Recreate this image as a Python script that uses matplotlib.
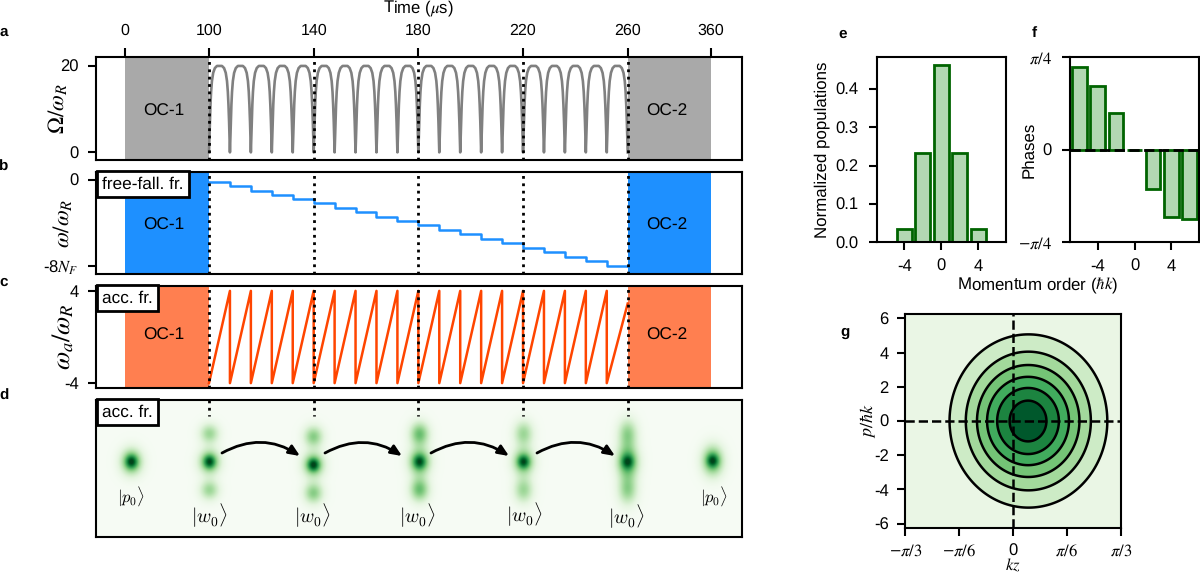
import numpy as np
import matplotlib
matplotlib.use('Agg')
import matplotlib.pyplot as plt

plt.rcParams['font.family'] = ['Liberation Sans', 'DejaVu Sans']
plt.rcParams['mathtext.fontset'] = 'stix'
plt.rcParams['axes.unicode_minus'] = False
plt.rcParams['axes.linewidth'] = 1.5
plt.rcParams['text.hinting'] = 'none'

W, H = 1200, 572

# time axis is squeezed over the two OC segments
scale_t = [-200, 0, 100, 260, 360, 560]
scale_px = [-43, 125, 209, 627.7, 711, 879]

time_ticks = [0, 100, 140, 180, 220, 260, 360]
dotted_t = [100, 140, 180, 220, 260]

# a: one pulse of 8 us
pulse_phase = [0, .02, .04, .07, .10, .14, .20, .28, .38, .5, .62, .72, .80, .86, .90, .93, .96, .98, 1]
pulse_amp = [0, 3.2, 7, 11, 14, 16.5, 18.4, 19.5, 20, 20, 20, 19.5, 18.4, 16.5, 14, 11, 7, 3.2, 0]
n_pulses = 20
pulse_len = 8

# b: frequency staircase, units of N_F
freq_levels = [-0.16, -0.53, -1.0, -1.37, -1.77, -2.17, -2.59, -3.02, -3.43, -3.83,
               -4.23, -4.67, -5.07, -5.51, -5.91, -6.32, -6.72, -7.16, -7.56, -8.0]

# c: accelerated frame sawtooth
saw_low = -4
saw_high = 4
saw_last = 2.9

# d: atom images (pixel positions in the panel)
spot_x = [131, 209, 313, 419, 523, 627, 712]
spot_y = [462, 462, 465, 462, 462, 462, 461]
spot_main = [0.42, 0.42, 0.46, 0.34, 0.42, 0.34, 0.42]
spot_halo = [0.62, 0.58, 0.58, 0.66, 0.58, 0.68, 0.62]
halo_sy = [9, 8.5, 8.5, 9, 9, 10.5, 10.5]
spot_side = [0, 0.38, 0.44, 0.52, 0.38, 0.42, 0]
side_sy = [1, 7, 7.5, 8.5, 9, 10.5, 1]
spot_gap = [0, 28, 28, 27.5, 28, 27.5, 0]
p0_x = [131, 714]
w0_x = [209, 312, 417, 524, 626]
w0_y = [515, 515, 515, 514, 516]
arrow_from = [(222, 453), (325, 453), (431, 453), (537, 453)]
arrow_to = [(300, 456), (402, 456), (509, 456), (615, 456)]

# e, f
orders = [-6, -4, -2, 0, 2, 4, 6]
populations = [0.002, 0.034, 0.232, 0.463, 0.232, 0.034, 0.002]
phases = [0.70, 0.54, 0.31, 0, -0.33, -0.57, -0.59]

# g: contour half widths (kz, in rad) and half heights (p), outer to inner
cont_xc = [0.150, 0.149, 0.148, 0.146, 0.146, 0.146]
cont_a = [0.767, 0.608, 0.498, 0.398, 0.300, 0.179]
cont_b = [5.06, 4.05, 3.27, 2.58, 1.93, 1.19]
cont_colors = ['#cdebc6', '#a3d99c', '#74c476', '#41ab5d', '#1c8440', '#00582c']
g_bg = '#eaf6e5'


def axes_px(left, top, right, bottom):
    return fig.add_axes([left / W, 1 - bottom / H, (right - left) / W, (bottom - top) / H])


def ylabel_at(ax, text, x_px, size):
    ax.set_ylabel(text, fontsize=size, va='center')
    box = ax.get_position()
    ax.yaxis.set_label_coords((x_px / W - box.x0) / box.width, 0.5)


def forward(t):
    return np.interp(t, scale_t, scale_px)


def inverse(p):
    return np.interp(p, scale_px, scale_t)


fig = plt.figure(figsize=(12, 5.72), dpi=100)

ax_a = axes_px(96, 57.3, 741.7, 159.7)
ax_b = axes_px(96, 171.8, 741.7, 274.2)
ax_c = axes_px(96, 285.8, 741.7, 388.2)
ax_d = axes_px(96, 400, 741.7, 537.3)

for ax in [ax_a, ax_b, ax_c]:
    ax.set_xscale('function', functions=(forward, inverse))
    ax.set_xlim(inverse(96), inverse(741.7))
    ax.set_xticks([])
    ax.minorticks_off()
    ax.tick_params(axis='y', length=6, width=1.5, labelsize=12, pad=6.5)

# a
t_pulse = []
v_pulse = []
for k in range(n_pulses):
    t_pulse += [100 + pulse_len * (k + p) for p in pulse_phase]
    v_pulse += pulse_amp
ax_a.axvspan(0, 100, color='darkgray', lw=0)
ax_a.axvspan(260, 360, color='darkgray', lw=0)
ax_a.plot(t_pulse, v_pulse, color='gray', lw=1.9)
ax_a.set_ylim(-1.7, 22)
ax_a.set_yticks([0, 20])
ylabel_at(ax_a, r'$\Omega/\omega_R$', 58, 16.5)
ax_a.set_xticks(time_ticks)
ax_a.set_xticklabels([str(t) for t in time_ticks])
ax_a.minorticks_off()
ax_a.tick_params(axis='x', top=True, bottom=False, labeltop=True, labelbottom=False,
                 length=6.5, width=1.5, labelsize=11.5, pad=7)

# b
t_steps = [100 + pulse_len * k for k in range(n_pulses + 1)]
ax_b.axvspan(0, 100, color='dodgerblue', lw=0)
ax_b.axvspan(260, 360, color='dodgerblue', lw=0)
ax_b.step(t_steps, freq_levels + [freq_levels[-1]], where='post', color='dodgerblue', lw=1.8)
ax_b.set_ylim(-8.8, 0.77)
ax_b.set_yticks([0, -8])
ax_b.set_yticklabels(['0', '-8$N_F$'])
ylabel_at(ax_b, r'$\omega/\omega_R$', 63, 16.5)

# c
t_saw = []
v_saw = []
for k in range(n_pulses):
    t_saw += [t_steps[k], t_steps[k + 1]]
    v_saw += [saw_low, saw_high if k < n_pulses - 1 else saw_last]
ax_c.axvspan(0, 100, color='coral', lw=0)
ax_c.axvspan(260, 360, color='coral', lw=0)
ax_c.plot(t_saw, v_saw, color='orangered', lw=1.8)
ax_c.set_ylim(-4.44, 4.44)
ax_c.set_yticks([-4, 4])
ylabel_at(ax_c, r'$\omega_a/\omega_R$', 63, 19)

for ax, y_oc in [(ax_a, 111.5), (ax_b, 225.5), (ax_c, 335.5)]:
    for t in dotted_t:
        ax.axvline(t, color='k', ls=':', lw=2, zorder=5)
    fig.text(163.5 / W, 1 - y_oc / H, 'OC-1', ha='center', va='center', fontsize=12.4)
    fig.text(667 / W, 1 - y_oc / H, 'OC-2', ha='center', va='center', fontsize=12.4)

label_box = dict(boxstyle='square,pad=0.3', fc='white', ec='k', lw=2)
ax_b.text(0.0093, 0.88, 'free-fall. fr.', transform=ax_b.transAxes, fontsize=12.4,
          ha='left', va='center', bbox=label_box, zorder=6)
ax_c.text(0.0093, 0.88, 'acc. fr.', transform=ax_c.transAxes, fontsize=12.4,
          ha='left', va='center', bbox=label_box, zorder=6)
ax_d.text(0.0093, 0.912, 'acc. fr.', transform=ax_d.transAxes, fontsize=12.4,
          ha='left', va='center', bbox=label_box, zorder=6)

# d
xx, yy = np.meshgrid(np.arange(96, 742, 1.0), np.arange(400, 538, 1.0))
img = np.full(xx.shape, 0.006)
for k in range(len(spot_x)):
    x0, y0, gap = spot_x[k], spot_y[k], spot_gap[k]
    img += spot_main[k] * np.exp(-((xx - x0) / 3.8) ** 2 / 2 - ((yy - y0) / 4.2) ** 2 / 2)
    img += spot_halo[k] * np.exp(-((xx - x0) / 7.5) ** 2 / 2 - ((yy - y0) / halo_sy[k]) ** 2 / 2)
    for sign in (-1, 1):
        img += spot_side[k] * np.exp(-((xx - x0) / 6.8) ** 2 / 2 - ((yy - y0 - sign * gap) / side_sy[k]) ** 2 / 2)
ax_d.imshow(img, cmap='Greens', vmin=0, vmax=1, extent=[96, 742, 538, 400], aspect='auto', zorder=0)
ax_d.set_xlim(96, 741.7)
ax_d.set_ylim(537.3, 400)
ax_d.set_xticks([])
ax_d.set_yticks([])
ax_d.vlines(forward(dotted_t), 400, 416, color='k', ls=':', lw=2, zorder=3)
for a, b in zip(arrow_from, arrow_to):
    ax_d.annotate('', xy=b, xytext=a, zorder=4,
                  arrowprops=dict(arrowstyle='-|>,head_length=0.65,head_width=0.28', color='k', lw=2,
                                  shrinkA=0, shrinkB=0, connectionstyle='arc3,rad=-0.3'))
for x in p0_x:
    ax_d.text(x, 497, r'$|p_0\rangle$', ha='center', va='center', fontsize=12, math_fontfamily='cm')
for x, y in zip(w0_x, w0_y):
    ax_d.text(x, y, r'$|w_0\rangle$', ha='center', va='center', fontsize=14, math_fontfamily='cm')

# e
ax_e = axes_px(876.7, 57.3, 1006, 242.3)
ax_e.bar(orders, populations, width=1.6, color=(0, 0.5, 0, 0.3), edgecolor='darkgreen', linewidth=2)
ax_e.set_xlim(-7, 7)
ax_e.set_ylim(0, 0.483)
ax_e.set_yticks([0, 0.1, 0.2, 0.3, 0.4])
ax_e.set_xticks([-4, 0, 4])
ax_e.tick_params(axis='y', length=6, width=1.5, labelsize=12, pad=7)
ax_e.tick_params(axis='x', length=6, width=1.5, labelsize=12, pad=6)
ylabel_at(ax_e, 'Normalized populations', 821.7, 12.2)

# f
ax_f = axes_px(1070, 57.3, 1199, 242.3)
ax_f.bar(orders, phases, width=1.6, color=(0, 0.5, 0, 0.3), edgecolor='darkgreen', linewidth=2)
ax_f.axhline(0, color='k', ls='--', lw=2, zorder=5)
ax_f.set_xlim(-7, 7)
ax_f.set_ylim(-np.pi / 4, np.pi / 4)
ax_f.set_yticks([-np.pi / 4, 0, np.pi / 4])
ax_f.set_yticklabels([r'$-\pi/4$', '0', r'$\pi/4$'])
ax_f.set_xticks([-4, 0, 4])
ax_f.tick_params(axis='y', length=6, width=1.5, labelsize=12, pad=7)
ax_f.tick_params(axis='x', length=6, width=1.5, labelsize=12, pad=6)
ylabel_at(ax_f, 'Phases', 1028.7, 12.2)

fig.text(1037.7 / W, 1 - 285.5 / H, r'Momentum order ($\hbar k$)', ha='center', va='center', fontsize=12.2)

# g
ax_g = axes_px(905.3, 314, 1120.7, 528)
ax_g.set_facecolor(g_bg)
angle = np.linspace(0, 2 * np.pi, 240)
for xc, a, b, col in zip(cont_xc, cont_a, cont_b, cont_colors):
    ax_g.fill(xc + a * np.cos(angle), b * np.sin(angle), facecolor=col, edgecolor='k', lw=1.8)
ax_g.axhline(0, color='k', ls='--', lw=1.8)
ax_g.axvline(0, color='k', ls='--', lw=1.8)
ax_g.set_xlim(-np.pi / 3, np.pi / 3)
ax_g.set_ylim(-6.25, 6.25)
ax_g.set_xticks([-np.pi / 3, -np.pi / 6, 0, np.pi / 6, np.pi / 3])
ax_g.set_xticklabels([r'$-\pi/3$', r'$-\pi/6$', '0', r'$\pi/6$', r'$\pi/3$'])
ax_g.set_yticks([-6, -4, -2, 0, 2, 4, 6])
ax_g.tick_params(axis='y', length=6, width=1.5, labelsize=12, pad=6)
ax_g.tick_params(axis='x', length=6, width=1.5, labelsize=12, pad=5)
ax_g.set_xlabel(r'$kz$', fontsize=12, va='center')
ax_g.xaxis.set_label_coords(0.5, (528 - 565) / 214)
ylabel_at(ax_g, r'$p/\hbar k$', 868, 13)

# titles and panel letters
fig.text(418 / W, 1 - 8.5 / H, r'Time ($\mu$s)', ha='center', va='center', fontsize=12)
for letter, x, y in [('a', 4, 32), ('b', 4, 167), ('c', 4, 282), ('d', 4, 396),
                     ('e', 843, 34), ('f', 1034, 33), ('g', 845, 332)]:
    fig.text(x / W, 1 - y / H, letter, ha='center', va='center', fontsize=11, fontweight='bold')

fig.savefig('out.png', dpi=100)
